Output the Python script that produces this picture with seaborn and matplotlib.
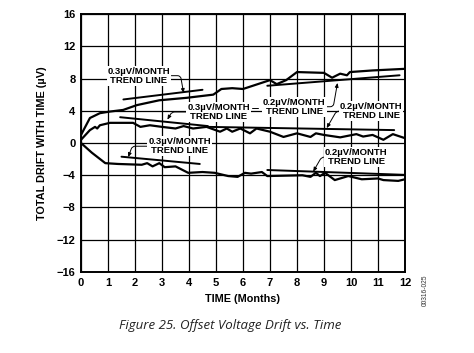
import matplotlib
matplotlib.use("Agg")
import matplotlib.pyplot as plt
import seaborn as sns
import pandas as pd
import numpy as np

# ---- data ----
top_t = [0, 0.33, 0.7, 1.07, 1.56, 2.07, 2.9, 3.9, 4.9, 5.2, 5.6, 6.0, 7.0, 7.25, 7.6, 8.0, 9.0, 9.3, 9.6, 9.85, 9.96, 10.8, 12.0]
top_v = [1.0, 3.1, 3.7, 3.9, 4.1, 4.7, 5.3, 5.6, 6.0, 6.7, 6.8, 6.7, 7.8, 7.3, 7.8, 8.8, 8.7, 8.1, 8.6, 8.4, 8.8, 9.0, 9.2]

mid_t = [0, 0.33, 0.52, 0.6, 0.7, 1.07, 1.93, 2.2, 2.55, 3.0, 3.5, 3.8, 4.15, 4.65, 5.15, 5.4, 5.6, 5.9, 6.26, 6.5, 7.0, 7.5, 8.0, 8.5, 8.7, 9.0, 9.6, 10.2, 10.45, 10.8, 11.2, 11.55, 12.0]
mid_v = [0.4, 1.6, 2.0, 1.8, 2.2, 2.5, 2.5, 2.0, 2.2, 2.0, 1.8, 2.1, 1.8, 2.0, 1.4, 1.8, 1.4, 1.8, 1.2, 1.8, 1.4, 0.75, 1.2, 0.75, 1.2, 1.0, 0.7, 1.1, 0.8, 1.0, 0.4, 1.1, 0.6]

bot_t = [0, 0.4, 0.9, 1.37, 2.25, 2.45, 2.65, 2.9, 3.1, 3.5, 3.97, 4.5, 4.95, 5.45, 5.8, 6.07, 6.3, 6.7, 6.9, 8.2, 8.5, 8.7, 8.85, 9.04, 9.4, 9.9, 10.4, 11.0, 11.2, 11.75, 12.0]
bot_v = [0.0, -1.2, -2.5, -2.6, -2.7, -2.5, -2.9, -2.5, -3.0, -2.9, -3.7, -3.6, -3.7, -4.1, -4.2, -3.7, -3.8, -3.6, -4.1, -4.0, -4.2, -3.7, -4.1, -3.7, -4.6, -4.1, -4.5, -4.4, -4.6, -4.7, -4.5]

# trend lines: (t_start, v_start, t_end, v_end)
trend_top_a = [1.57, 5.4, 4.5, 6.6]
trend_top_b = [6.9, 7.1, 11.8, 8.4]
trend_mid_a = [1.45, 3.2, 4.7, 2.1]
trend_mid_b = [4.7, 2.0, 11.6, 1.6]
trend_bot_a = [1.5, -1.7, 4.4, -2.6]
trend_bot_b = [6.9, -3.35, 12.0, -3.95]

label_03 = "0.3\u00b5V/MONTH\nTREND LINE"
label_02 = "0.2\u00b5V/MONTH\nTREND LINE"

x_ticks = list(range(0, 13))
y_ticks = [-16, -12, -8, -4, 0, 4, 8, 12, 16]
y_tick_labels = ["\u221216", "\u221212", "\u22128", "\u22124", "0", "4", "8", "12", "16"]

# ---- figure ----
sns.set_theme(style="white")
plt.rcParams["font.family"] = ["Liberation Sans", "DejaVu Sans"]

fig = plt.figure(figsize=(4.74, 3.53), dpi=100)
ax = fig.add_axes([0.1709, 0.2295, 0.6835, 0.7308])

curves = pd.concat([
    pd.DataFrame({"t": top_t, "v": top_v, "s": "top"}),
    pd.DataFrame({"t": mid_t, "v": mid_v, "s": "mid"}),
    pd.DataFrame({"t": bot_t, "v": bot_v, "s": "bot"}),
])
sns.lineplot(data=curves, x="t", y="v", units="s", estimator=None, sort=False,
             color="black", linewidth=1.6, ax=ax, zorder=3)

trends = []
for i, tr in enumerate([trend_top_a, trend_top_b, trend_mid_a, trend_mid_b, trend_bot_a, trend_bot_b]):
    trends.append(pd.DataFrame({"t": [tr[0], tr[2]], "v": [tr[1], tr[3]], "s": i}))
trends = pd.concat(trends)
sns.lineplot(data=trends, x="t", y="v", units="s", estimator=None, sort=False,
             color="black", linewidth=1.4, ax=ax, zorder=3)

ax.set_xlim(0, 12)
ax.set_ylim(-16, 16)
ax.set_xticks(x_ticks)
ax.set_yticks(y_ticks)
ax.set_yticklabels(y_tick_labels)
ax.grid(True, color="black", linewidth=0.9)
ax.set_axisbelow(True)
for sp in ax.spines.values():
    sp.set_color("black")
    sp.set_linewidth(1.4)
ax.tick_params(axis="both", length=0, pad=4, labelsize=8, colors="black")
for lbl in ax.get_xticklabels() + ax.get_yticklabels():
    lbl.set_fontweight("bold")

ax.set_xlabel("TIME (Months)", fontsize=7.8, fontweight="bold", labelpad=5, color="black")
ax.set_ylabel("TOTAL DRIFT WITH TIME (\u00b5V)", fontsize=7.8, fontweight="bold", labelpad=7, color="black")

tkw = dict(fontsize=6.8, fontweight="bold", ha="center", va="center",
           linespacing=1.0, color="black", zorder=5,
           bbox=dict(boxstyle="square,pad=0.1", fc="white", ec="none"))
akw = dict(arrowstyle="-|>,head_length=0.35,head_width=0.15", color="black", lw=0.7,
           shrinkA=0, shrinkB=0)

# top-left label, leader to the right then down
ax.annotate(label_03, xy=(3.8, 6.2), xytext=(2.15, 8.35),
            arrowprops=dict(**akw, connectionstyle="angle,angleA=0,angleB=100,rad=3"),
            **tkw)
# middle 0.3 label, leader to the left and down
ax.annotate(label_03, xy=(3.2, 2.9), xytext=(5.1, 3.85),
            arrowprops=dict(**akw, connectionstyle="angle,angleA=180,angleB=60,rad=3"),
            **tkw)
ax.plot([6.33, 6.55], [4.35, 4.35], color="black", lw=0.7, zorder=5)
# upper-right 0.2 label, leader up to the trend line
ax.annotate(label_02, xy=(9.5, 7.45), xytext=(7.9, 4.5),
            arrowprops=dict(**akw, connectionstyle="angle,angleA=0,angleB=-100,rad=3"),
            **tkw)
# right-middle 0.2 label
ax.annotate(label_02, xy=(9.1, 1.85), xytext=(10.75, 3.95),
            arrowprops=dict(**akw, connectionstyle="angle,angleA=180,angleB=60,rad=3"),
            **tkw)
# bottom-left 0.3 label
ax.annotate(label_03, xy=(1.75, -1.75), xytext=(3.65, -0.4),
            arrowprops=dict(**akw, connectionstyle="angle,angleA=180,angleB=70,rad=3"),
            **tkw)
# bottom-right 0.2 label
ax.annotate(label_02, xy=(8.6, -3.55), xytext=(10.2, -1.75),
            arrowprops=dict(**akw, connectionstyle="angle,angleA=180,angleB=60,rad=3"),
            **tkw)

fig.text(0.485, 0.078, "Figure 25. Offset Voltage Drift vs. Time", ha="center", va="center",
         fontsize=9.5, style="italic", color="#222222", family=["Open Sans", "DejaVu Sans"])
fig.text(0.898, 0.178, "00316-025", rotation=90, ha="center", va="center",
         fontsize=4.8, color="#333333")

fig.savefig("out.png", dpi=100)
